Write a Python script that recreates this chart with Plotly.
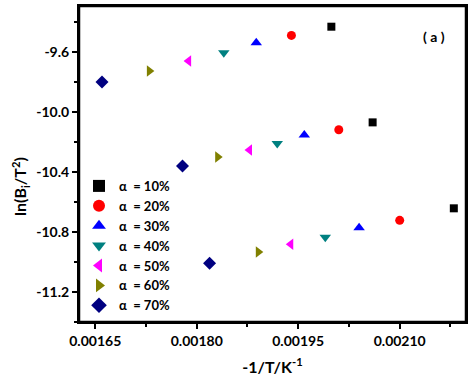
import plotly.graph_objects as go

labels = ["α  = 10%", "α  = 20%", "α  = 30%", "α  = 40%", "α  = 50%", "α  = 60%", "α  = 70%"]
# x values (-1/T) for the three groups per alpha
x_top = [0.001999, 0.00194, 0.001888, 0.00184, 0.001788, 0.00173, 0.00166]
y_top = [-9.433, -9.491, -9.54, -9.607, -9.662, -9.729, -9.802]
x_mid = [0.00206, 0.00201, 0.001959, 0.001919, 0.001878, 0.001831, 0.001779]
y_mid = [-10.071, -10.12, -10.155, -10.211, -10.255, -10.302, -10.362]
x_bot = [0.00218, 0.00210, 0.00204, 0.00199, 0.001939, 0.001891, 0.001819]
y_bot = [-10.644, -10.724, -10.773, -10.837, -10.884, -10.935, -11.01]

colors = ["#000000", "#FF0000", "#0000FF", "#008080", "#FF00FF", "#808000", "#000080"]
symbols = ["square", "circle", "triangle-up", "triangle-down", "triangle-left", "triangle-right", "diamond"]
sizes = [8, 9, 10, 10, 10, 10, 10]

fig = go.Figure()
for i in range(7):
    fig.add_trace(go.Scatter(
        x=[x_top[i], x_mid[i], x_bot[i]],
        y=[y_top[i], y_mid[i], y_bot[i]],
        mode="markers", name=labels[i], cliponaxis=False,
        marker=dict(color=colors[i], symbol=symbols[i], size=sizes[i], line=dict(width=0)),
    ))

font = "Lato, 'DejaVu Sans', sans-serif"
fig.update_layout(
    width=474, height=384,
    margin=dict(l=79, r=8, t=6, b=62, autoexpand=False),
    paper_bgcolor="white", plot_bgcolor="white",
    font=dict(family=font, size=14, color="black", weight="bold"),
    showlegend=True,
    legend=dict(x=0.0, y=0.478, xanchor="left", yanchor="top",
                bgcolor="rgba(0,0,0,0)", font=dict(size=13, weight="bold"),
                itemsizing="constant", tracegroupgap=0),
    xaxis=dict(range=[0.001626, 0.002198], tickvals=[0.00165, 0.00180, 0.00195, 0.00210],
               ticktext=["0.00165", "0.00180", "0.00195", "0.00210"], automargin=False,
               showgrid=False, zeroline=False, showline=True, linecolor="black", linewidth=2,
               mirror=True, ticks="outside", ticklen=5, tickwidth=1.5, tickcolor="black",
               minor=dict(dtick=0.000075, tick0=0.00165, ticks="outside", ticklen=3, tickwidth=1.5, tickcolor="black"),
               title=dict(text="-1/T/K<sup>-1</sup>", font=dict(size=16, weight="bold"), standoff=14),
               tickfont=dict(size=14, weight="bold")),
    yaxis=dict(range=[-11.402, -9.295], tickvals=[-9.6, -10.0, -10.4, -10.8, -11.2],
               ticktext=["-9.6", "-10.0", "-10.4", "-10.8", "-11.2"], automargin=False,
               showgrid=False, zeroline=False, showline=True, linecolor="black", linewidth=2,
               mirror=True, ticks="outside", ticklen=5, tickwidth=1.5, tickcolor="black",
               minor=dict(dtick=0.2, tick0=-9.6, ticks="outside", ticklen=3, tickwidth=1.5, tickcolor="black"),
               tickfont=dict(size=14, weight="bold")),
    shapes=[dict(type="rect", xref="paper", yref="paper", x0=0, x1=1, y0=0, y1=1,
                 line=dict(color="black", width=2.5), layer="above")],
    annotations=[
        dict(text="( a )", xref="paper", yref="paper", x=0.917, y=0.902,
             xanchor="center", yanchor="middle",
             showarrow=False, font=dict(size=14, weight="bold")),
        dict(text="ln(B<sub>i</sub>/T<sup>2</sup>)", xref="paper", yref="paper",
             x=-0.153, y=0.43, xanchor="center", yanchor="middle", textangle=-90,
             showarrow=False, font=dict(size=16, weight="bold")),
    ],
)
fig.write_html("out.html", config={"displayModeBar": False},
               post_script="document.body.style.margin='0';document.body.style.overflow='hidden';"
                           "document.documentElement.style.overflow='hidden';window.scrollTo(0,0);")
